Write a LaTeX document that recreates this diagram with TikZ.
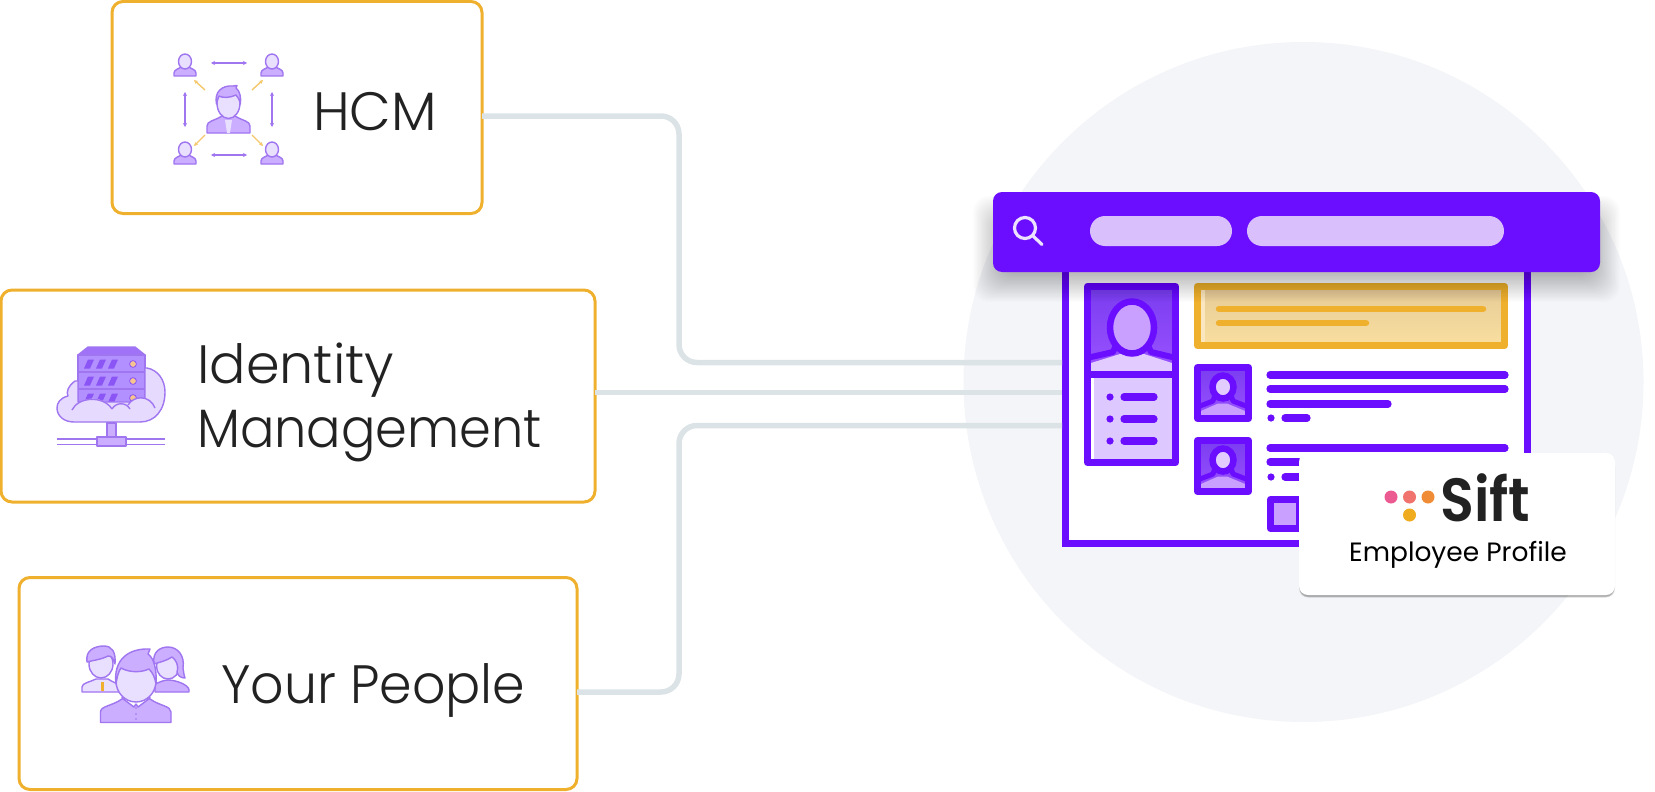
\documentclass[tikz,border=0pt]{standalone}
\usepackage{fontspec}
\setmainfont{Poppins}
\newfontfamily\lightf{Poppins Light}
\newfontfamily\lightm[FakeStretch=.945]{Poppins Light}
\newfontfamily\lightp[FakeStretch=.966]{Poppins Light}
\newfontfamily\regf{Poppins}
\newfontfamily\boldf[FakeStretch=.91]{Poppins SemiBold}
\usetikzlibrary{arrows.meta,calc}
\definecolor{gold}{HTML}{EFB02E}
\definecolor{wire}{HTML}{DCE3E6}
\definecolor{disc}{HTML}{F4F5F8}
\definecolor{vio}{HTML}{6B0EFF}
\definecolor{pill}{HTML}{D9BFFC}
\definecolor{ink}{HTML}{222222}
\definecolor{icl}{HTML}{A075F0}
\definecolor{icb}{HTML}{CBAEFF}
\definecolor{icf}{HTML}{E9DFFF}
\definecolor{phA}{HTML}{7A3DF0}
\definecolor{phB}{HTML}{9A52FF}
\definecolor{lil}{HTML}{C9A0FF}
\definecolor{lil2}{HTML}{E2CCFF}
\definecolor{lil3}{HTML}{DDC8FF}
\definecolor{cloud}{HTML}{E6DAFF}
\definecolor{srv}{HTML}{B390FF}
\definecolor{srvt}{HTML}{9F72F8}
\definecolor{srvd}{HTML}{8B55F5}
\definecolor{peach}{HTML}{F6C48E}
\definecolor{bantop}{HTML}{E5CB96}
\definecolor{banbot}{HTML}{FADFA0}
\definecolor{dotA}{HTML}{EC5A92}
\definecolor{dotB}{HTML}{F0736D}
\definecolor{dotC}{HTML}{F08C35}
\definecolor{dotD}{HTML}{F0AC1F}
\tikzset{
  source/.style={draw=gold,line width=3pt,fill=white,rounded corners=11pt,inner sep=0pt,outer sep=0pt},
  link/.style={draw=wire,line width=5.5pt,rounded corners=18pt},
  label/.style={anchor=base west,text=ink,inner sep=0pt},
  ic/.style={draw=icl,line width=1.4pt,line join=round},
  arr/.style={draw=icl,line width=1.4pt,{Stealth[length=4pt,width=4pt]}-{Stealth[length=4pt,width=4pt]}},
  yarr/.style={draw=gold!70,line width=1.4pt,-{Stealth[length=4pt,width=4pt]}},
  vbar/.style={draw=vio,line width=7.2pt,line cap=round},
  vframe/.style={draw=vio,line width=7pt,line join=round},
}
\newcommand{\tinyperson}[2]{%
  \begin{scope}[shift={(#1,#2)}]
    \filldraw[ic,fill=icb] (-11,22) -- (-11,19) .. controls (-11,15) and (-5,15) .. (-3,12) -- (3,12) .. controls (5,15) and (11,15) .. (11,19) -- (11,22) -- cycle;
    \filldraw[ic,fill=icf] (0,7.5) ellipse (6.5 and 7.5);
  \end{scope}}
\newcommand{\photo}[2]{%
  \begin{scope}[shift={(#1,#2)}]
    \shade[top color=phA,bottom color=phB] (3,3) rectangle (55,55);
    \fill[lil] (7,51) -- (7,47) -- (24,39.5) -- (33,39.5) -- (51,47) -- (51,51) -- cycle;
    \draw[vio,line width=5pt,line join=round] (6,42) -- (19,37) -- (21,31);
    \draw[vio,line width=5pt,line join=round] (52,42) -- (39,37) -- (37,31);
    \filldraw[draw=vio,line width=6.5pt,fill=lil2] (29,23) ellipse (10.5 and 11.5);
    \draw[vframe] (3.5,3.5) rectangle (54.5,54.5);
  \end{scope}}
\begin{document}
\begin{tikzpicture}[x=1pt,y=-1pt]
\useasboundingbox (0,0) rectangle (1655,792);
% disc
\fill[disc] (1303.5,382) circle (340);
% sources
\node[source,minimum width=370pt,minimum height=212pt] (hcm) at (297,107.5) {};
\node[source,minimum width=594pt,minimum height=212pt] (idm) at (298,396) {};
\node[source,minimum width=558pt,minimum height=212pt] (ppl) at (298,683.5) {};
\node[label,font=\lightf\fontsize{54}{54}\selectfont] (hcmtxt) at (313,130) {HCM};
\node[label,font=\lightf\fontsize{54}{54}\selectfont] (idtxt) at (197,383) {Identity};
\node[label,font=\lightm\fontsize{54}{54}\selectfont] (mgtxt) at (197,447) {Management};
\node[label,font=\lightp\fontsize{54}{54}\selectfont] (pptxt) at (221,703) {Your People};
% HCM icon
\tinyperson{185}{54}
\tinyperson{272}{54}
\tinyperson{185}{142}
\tinyperson{272}{142}
\draw[arr] (211,63) -- (247,63);
\draw[arr] (211,155) -- (247,155);
\draw[arr] (185,92) -- (185,127);
\draw[arr] (272,92) -- (272,127);
\draw[yarr] (205,90) -- (194,80);
\draw[yarr] (252,90) -- (263,80);
\draw[yarr] (205,135) -- (194,146);
\draw[yarr] (252,135) -- (263,146);
\filldraw[ic,fill=icb] (207,133) -- (207,126) .. controls (207,121) and (214,121) .. (222,116) -- (235,116) .. controls (243,121) and (250,121) .. (250,126) -- (250,133) -- cycle;
\fill[icf] (225,120) -- (232,120) -- (230,133) -- (227,133) -- cycle;
\filldraw[ic,fill=icf] (228.5,103) ellipse (11.5 and 15.5);
\filldraw[ic,fill=icb] (216.5,104) .. controls (214,92) and (222,85) .. (233,86) -- (237,85.5) -- (236,88) .. controls (240,91) and (241,97) .. (240.5,104) .. controls (239,99) and (238,97) .. (236,95) .. controls (230,98) and (222,98) .. (219,96) .. controls (218,99) and (217,101) .. (216.5,104) -- cycle;
% identity icon
\filldraw[ic,fill=srvt] (78,355) -- (88,347) -- (135,347) -- (145,355) -- cycle;
\filldraw[ic,fill=srv] (78,355) rectangle (145,372);
\filldraw[ic,fill=srv] (78,372) rectangle (145,389);
\filldraw[ic,fill=srv] (78,389) rectangle (145,406);
\foreach \yy in {359.5,376.5,393.5}{
  \foreach \xx in {84,96,108}{
    \fill[srvd] (\xx,{\yy+9}) -- ({\xx+4},\yy) -- ({\xx+10},\yy) -- ({\xx+6},{\yy+9}) -- cycle;
  }
  \filldraw[draw=srvd,line width=.8pt,fill=peach] (133,{\yy+4.5}) circle (3.4);
}
\filldraw[ic,fill=cloud] (75,381) .. controls (68,386) and (66,392) .. (68,396) .. controls (60,398) and (57,403) .. (57,408) .. controls (57,416) and (64,422) .. (74,422) -- (140,422) .. controls (155,422) and (165,410) .. (165,392) .. controls (165,380) and (158,370) .. (147,368) -- (145,368) -- (145,402) -- (78,402) -- (78,381) -- cycle;
\fill[cloud] (72,411) .. controls (78,396) and (103,394) .. (112,409) .. controls (116,402) and (124,402) .. (129,405) .. controls (134,395) and (150,395) .. (155,410) -- (140,420) -- (80,420) -- cycle;
\draw[ic] (72,410) .. controls (78,397) and (103,395) .. (112,409);
\draw[ic] (112,409) .. controls (116,402) and (126,402) .. (130,409);
\draw[ic] (128,405) .. controls (134,395) and (150,395) .. (155,408);
\draw[ic,fill=icb] (107,423) rectangle (116,439);
\draw[ic] (57,439) -- (165,439) (57,444.5) -- (165,444.5);
\filldraw[ic,fill=icb] (97,437) rectangle (126,446);
% people icon
\filldraw[ic,fill=icf] (82,692) -- (82,687) .. controls (82,683) and (90,682) .. (96,679) -- (108,679) .. controls (112,682) and (120,684) .. (120,687) -- (120,692) -- cycle;
\fill[gold] (100.5,682) rectangle (103.5,691);
\filldraw[ic,fill=icf] (101,664) ellipse (12 and 14);
\filldraw[ic,fill=icb] (87,662) .. controls (85,650) and (95,646) .. (104,646) .. controls (112,646) and (116,652) .. (115,664) .. controls (113,658) and (112,656) .. (108,656) .. controls (100,660) and (94,660) .. (87,662) -- cycle;
\filldraw[ic,fill=icb] (155,692) -- (155,684) .. controls (160,682) and (164,680) .. (168,680) .. controls (176,680) and (189,685) .. (189,690) -- (189,692) -- cycle;
\filldraw[ic,fill=icf] (168,666) ellipse (11.5 and 13);
\filldraw[ic,fill=icb] (154,664) .. controls (152,652) and (160,647) .. (168,647) .. controls (178,647) and (185,656) .. (183,668) .. controls (184,674) and (184,676) .. (185,678) .. controls (181,678) and (178,676) .. (177,672) .. controls (179,665) and (176,660) .. (172,657) .. controls (166,661) and (160,662) .. (154,664) -- cycle;
\filldraw[ic,fill=icb] (100.5,722.5) -- (100.5,712) .. controls (100.5,706) and (112,706) .. (122,699) -- (150,699) .. controls (160,706) and (171,706) .. (171,712) -- (171,722.5) -- cycle;
\filldraw[ic,fill=white] (122,698) -- (134,707) -- (136,704) -- (138,707) -- (150,698) -- (146,692) -- (126,692) -- cycle;
\filldraw[ic,fill=icf] (136,681) ellipse (20 and 21);
\filldraw[ic,fill=icb] (116,684) .. controls (113,660) and (128,648) .. (150,649) -- (148,654) .. controls (154,658) and (157,670) .. (156,684) .. controls (155,678) and (153,673) .. (149,669) .. controls (138,674) and (126,671) .. (121,668) .. controls (118,672) and (117,678) .. (116,684) -- cycle;
\fill[icl] (136,708) circle (.8) (136,714) circle (.8) (136,719) circle (.8);
% window
\node[draw=vio,line width=7pt,fill=white,minimum width=461.5pt,minimum height=283pt,inner sep=0pt,outer sep=3.5pt] (window) at (1296.25,401.5) {};
\coordinate (y1) at (0,362.5);
\coordinate (y2) at (0,392.5);
\coordinate (y3) at (0,425.5);
\coordinate (w1) at (window.west |- y1);
\coordinate (w2) at (window.west |- y2);
\coordinate (w3) at (window.west |- y3);
% connectors
\draw[link] ([yshift=-8.5pt]hcm.east) -| (679,362.5) -- (w1);
\draw[link] ([yshift=3.5pt]idm.east) -- (w2);
\draw[link] ([yshift=-8.5pt]ppl.east) -| (679,425.5) -- (w3);
% big card
\shade[top color=phA,bottom color=phB] (1088,287) rectangle (1175,372);
\fill[lil2] (1091,371) -- (1091,363) -- (1120,354) -- (1144,354) -- (1172,363) -- (1172,371) -- cycle;
\draw[vio,line width=6pt,line join=round] (1089,357.5) -- (1113,352) -- (1117,343);
\draw[vio,line width=6pt,line join=round] (1174,357.5) -- (1151,352) -- (1147,343);
\filldraw[draw=vio,line width=6.5pt,fill=lil] (1132,327.5) ellipse (22 and 26);
\fill[lil3] (1091,375) rectangle (1172,463);
\fill[white] (1091,378) rectangle (1094,459);
\draw[vframe] (1087.5,286.5) rectangle (1175.5,462.5);
\draw[vframe] (1087.5,374.5) -- (1175.5,374.5);
\foreach \yy in {397,419,441}{
  \fill[vio] (1110,\yy) circle (3.6);
  \draw[vbar] (1124,\yy) -- (1154,\yy);
}
% gold banner
\shade[top color=bantop,bottom color=banbot] (1197,286) rectangle (1505,346);
\fill[white!70!gold] (1201,290) rectangle (1205,342);
\draw[draw=gold,line width=7pt,line join=round] (1197.5,286.5) rectangle (1504.5,345.5);
\draw[gold,line width=6.5pt,line cap=round] (1219,309) -- (1483,309);
\draw[gold,line width=6.5pt,line cap=round] (1219,323) -- (1366,323);
% list
\photo{1194}{364}
\photo{1194}{437}
\draw[vbar] (1270,375) -- (1505,375);
\draw[vbar] (1270,389) -- (1505,389);
\draw[vbar] (1270,404) -- (1388,404);
\fill[vio] (1271,418) circle (3.6);
\draw[vbar] (1285,418) -- (1307,418);
\draw[vbar] (1270,448) -- (1505,448);
\draw[vbar] (1270,462) -- (1340,462);
\fill[vio] (1271,477) circle (3.6);
\draw[vbar] (1285,477) -- (1330,477);
\filldraw[draw=vio,line width=7pt,fill=lil,line join=round] (1270.5,499.5) rectangle (1299.5,528.5);
% search bar shadow
\foreach \k in {0,...,23}{
  \fill[black,opacity=.011,rounded corners=16pt] ({993-20+\k*1.3},{192+4+\k*1.3}) rectangle ({1600+20-\k*1.3},{272+30-\k*1.3});
}
\node[fill=vio,rounded corners=9pt,minimum width=607pt,minimum height=80pt,inner sep=0pt] (bar) at (1296.5,232) {};
\draw[white!88!vio,line width=3.2pt] (1025,228) circle (10.5);
\draw[white!88!vio,line width=3.2pt,line cap=round] (1033,236) -- (1042,244.5);
\fill[pill,rounded corners=15pt] (1090,216) rectangle (1232,246);
\fill[pill,rounded corners=15pt] (1247,216) rectangle (1504,246);
% card
\foreach \k in {0,1,2}{
  \fill[black,opacity=.12,rounded corners=9pt] ({1299+\k*.4},{457+\k*.4}) rectangle ({1615-\k*.4},{597.5-\k*.4});
}
\node[fill=white,rounded corners=9pt,minimum width=316pt,minimum height=142pt,inner sep=0pt] (card) at (1457,524) {};
\fill[dotA] (1391,497) circle (6.5);
\fill[dotB] (1409.5,497) circle (6.5);
\fill[dotC] (1428,497) circle (6.5);
\fill[dotD] (1409.5,515) circle (6.5);
\node[anchor=base west,inner sep=0pt,text=ink,font=\boldf\fontsize{61}{61}\selectfont] (sift) at (1440,521) {Sift};
\node[anchor=base west,inner sep=0pt,text=black,font=\regf\fontsize{26.5}{26.5}\selectfont] (prof) at (1349,561) {Employee Profile};
\end{tikzpicture}
\end{document}
